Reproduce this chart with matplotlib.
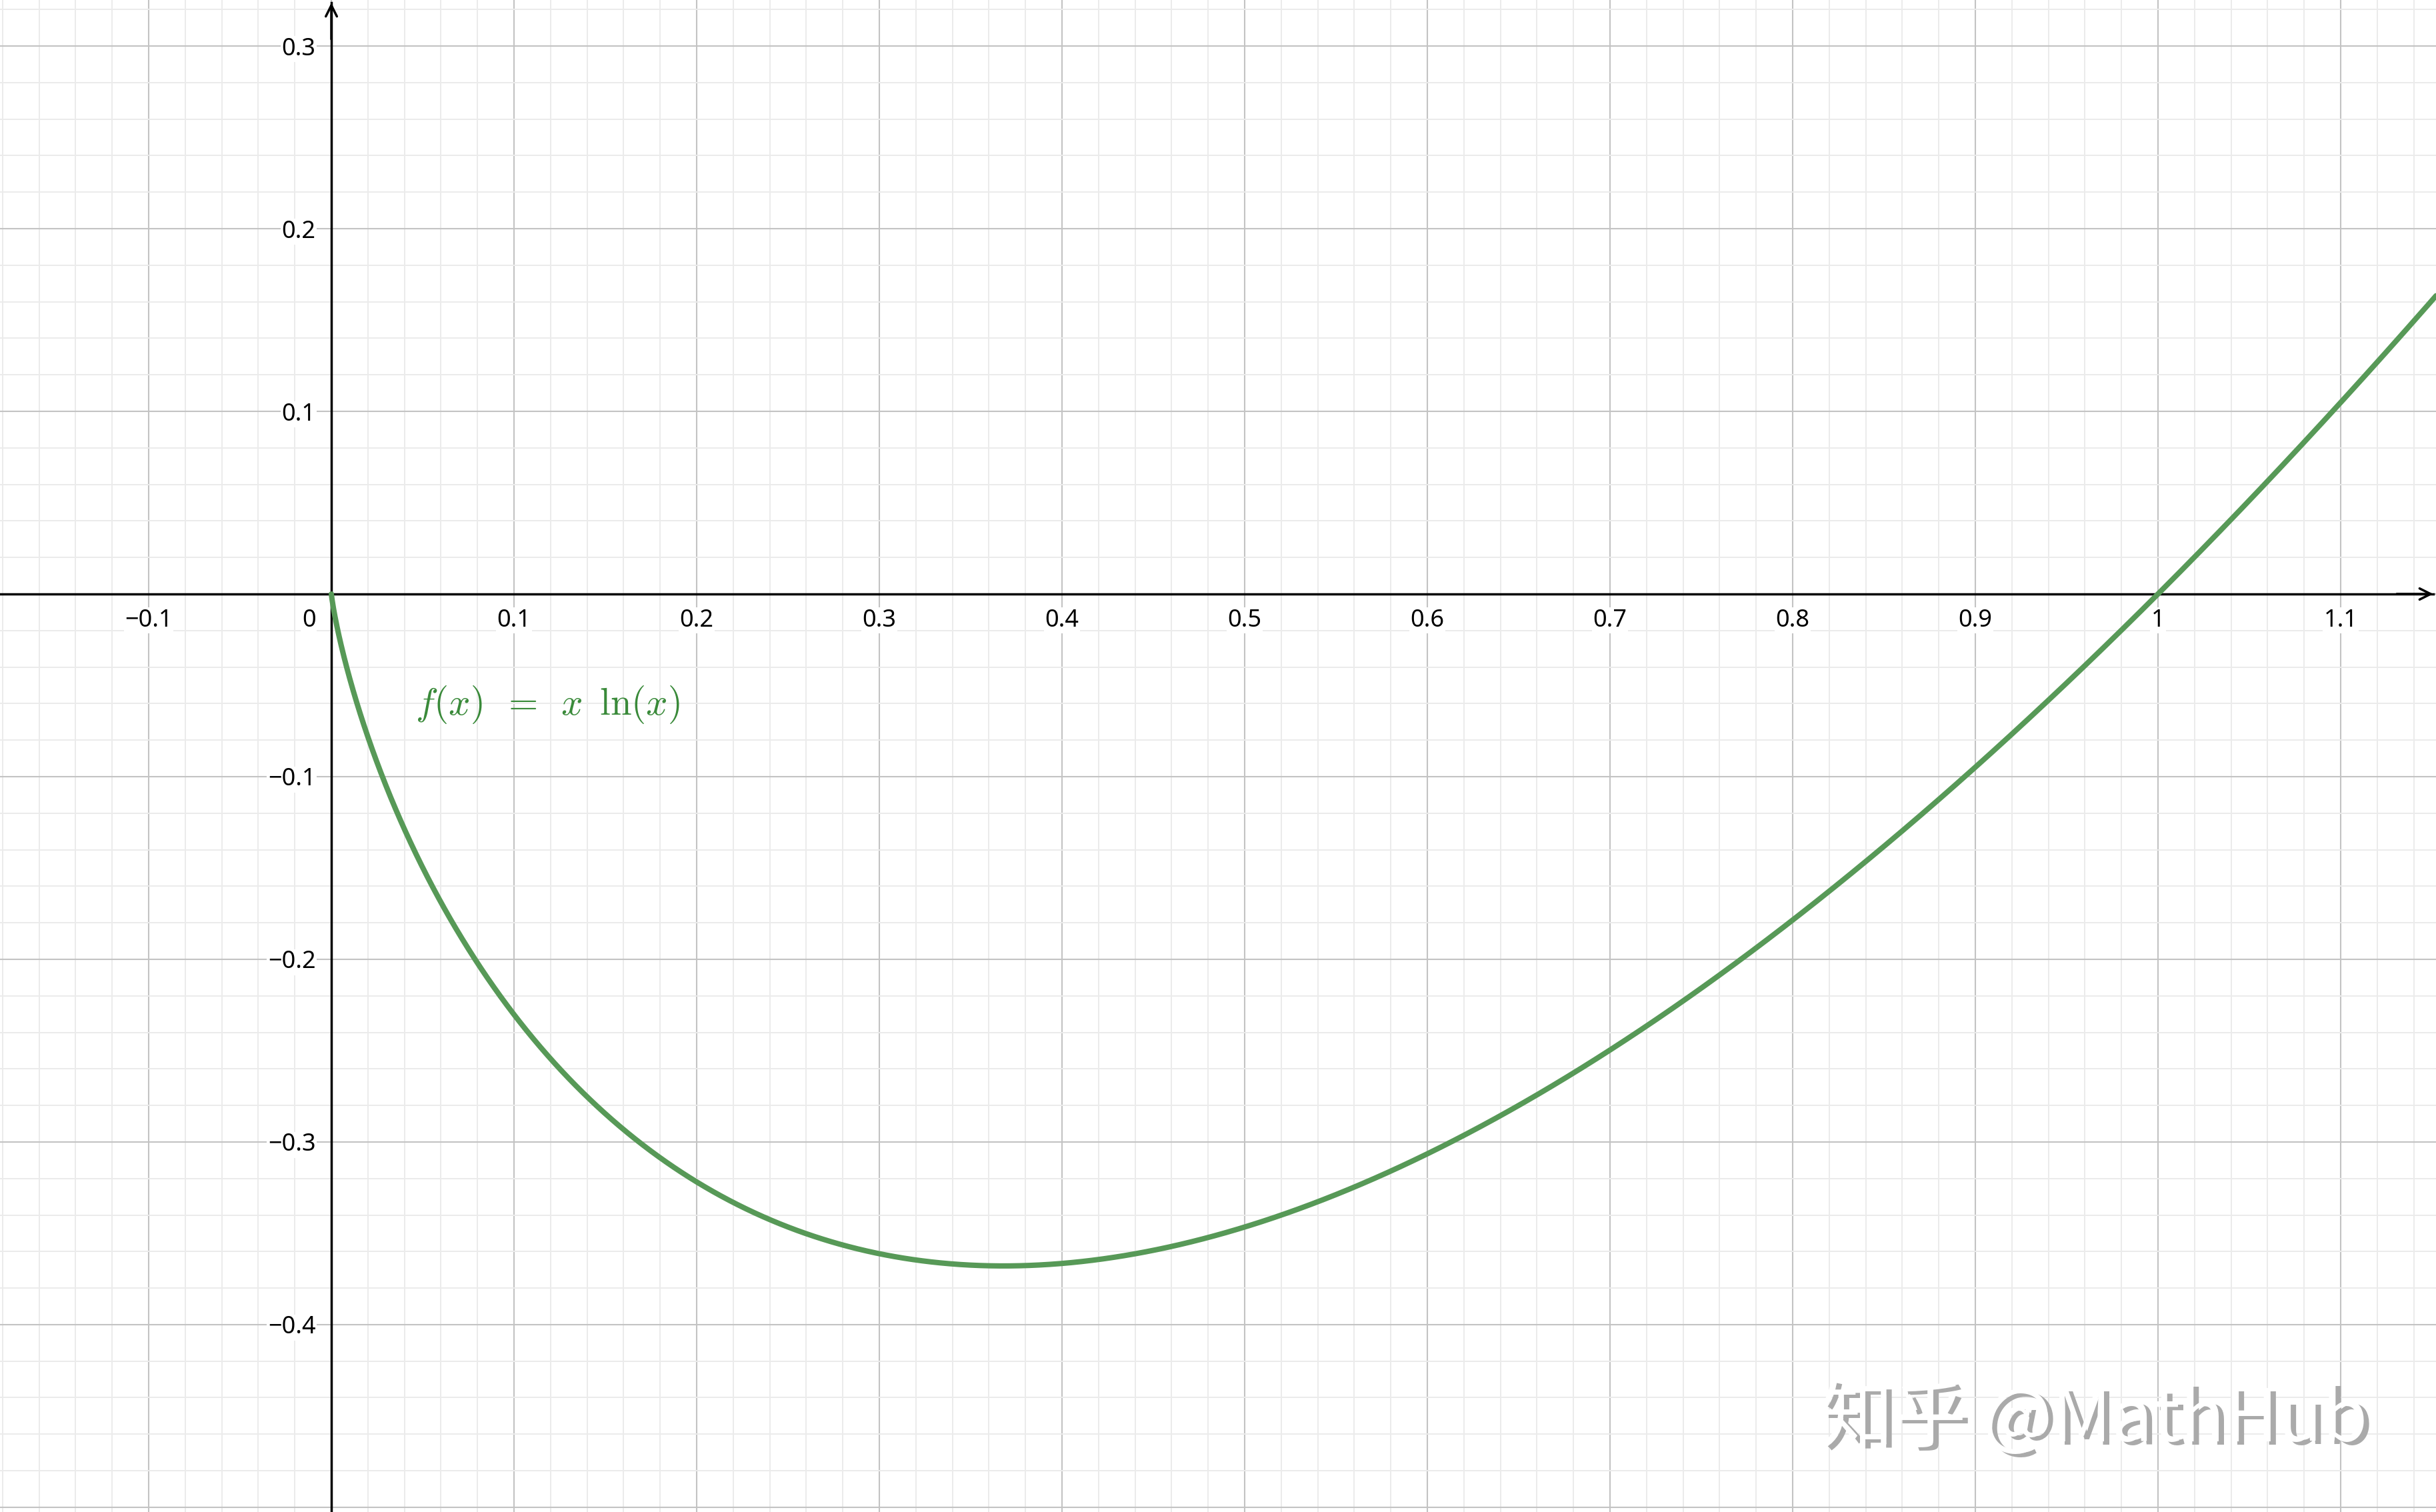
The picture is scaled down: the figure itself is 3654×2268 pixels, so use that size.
import numpy as np
import matplotlib
matplotlib.use("Agg")
import matplotlib.pyplot as plt
from matplotlib.ticker import MultipleLocator

# ---- data ----
x_ticks = [-0.1, 0.1, 0.2, 0.3, 0.4, 0.5, 0.6, 0.7, 0.8, 0.9, 1.0, 1.1]
x_tick_labels = ['\u22120.1', '0.1', '0.2', '0.3', '0.4', '0.5', '0.6', '0.7',
                 '0.8', '0.9', '1', '1.1']
y_ticks = [0.3, 0.2, 0.1, -0.1, -0.2, -0.3, -0.4]
y_tick_labels = ['0.3', '0.2', '0.1', '\u22120.1', '\u22120.2', '\u22120.3', '\u22120.4']
origin_label = '0'
func_label = r'$f(x)\ \,=\ \,x\ \,\ln(x)$'
watermark = '知乎 @MathHub'

# plotted function f(x) = x ln(x), as named in the chart
x_curve = np.linspace(1e-7, 1.16, 3000)
y_curve = x_curve * np.log(x_curve)

# ---- layout ----
W, H, DPI = 3654, 2268, 100
x_min, x_max = -0.1814, 1.1522
y_min, y_max = -0.5026, 0.3252

plt.rcParams['mathtext.fontset'] = 'cm'
plt.rcParams['font.family'] = ['Noto Sans', 'DejaVu Sans']

fig = plt.figure(figsize=(W / DPI, H / DPI), dpi=DPI)
ax = fig.add_axes([0, 0, 1, 1])
ax.set_xlim(x_min, x_max)
ax.set_ylim(y_min, y_max)

ax.xaxis.set_major_locator(MultipleLocator(0.1))
ax.xaxis.set_minor_locator(MultipleLocator(0.02))
ax.yaxis.set_major_locator(MultipleLocator(0.1))
ax.yaxis.set_minor_locator(MultipleLocator(0.02))
ax.grid(which='minor', color='#ebebeb', lw=1.4)
ax.grid(which='major', color='#c3c3c3', lw=1.5)
ax.set_axisbelow(True)
ax.tick_params(which='both', length=0, labelbottom=False, labelleft=False)
for s in ax.spines.values():
    s.set_visible(False)

# axes lines with open arrowheads
x_tip = 1.1507
y_tip = 0.3237
ax.plot([x_min, x_tip], [0, 0], color='black', lw=2.5, zorder=3)
ax.plot([0, 0], [y_min, y_tip], color='black', lw=2.5, zorder=3)
arrow_kw = dict(arrowstyle='->,head_length=1.2,head_width=0.6', color='black',
                lw=2.5, mutation_scale=10, shrinkA=0, shrinkB=0)
ax.annotate('', xy=(x_tip, 0), xytext=(x_tip - 0.02, 0), arrowprops=arrow_kw, zorder=3)
ax.annotate('', xy=(0, y_tip), xytext=(0, y_tip - 0.02), arrowprops=arrow_kw, zorder=3)

bbox = dict(facecolor='white', edgecolor='none', pad=1.0)
for t, lab in zip(x_ticks, x_tick_labels):
    ax.annotate(lab, xy=(t, 0), xytext=(0, -15.5), textcoords='offset points',
                ha='center', va='top', fontsize=26, color='black', bbox=bbox, zorder=4)
for t, lab in zip(y_ticks, y_tick_labels):
    ax.annotate(lab, xy=(0, t), xytext=(-17, 0), textcoords='offset points',
                ha='right', va='center_baseline', fontsize=26, color='black', bbox=bbox, zorder=4)
ax.annotate(origin_label, xy=(0, 0), xytext=(-17, -15.5), textcoords='offset points',
            ha='right', va='top', fontsize=26, color='black', bbox=bbox, zorder=4)

# curve
ax.plot(x_curve, y_curve, color='#579957', lw=5.8, solid_capstyle='round', zorder=5)
ax.text(0.0460, -0.066, func_label, fontsize=41, color='#3a8a3a',
        ha='left', va='baseline', zorder=6)

# watermark with shadow
wm_kw = dict(fontsize=79, family=['Noto Sans CJK SC', 'DejaVu Sans'],
             ha='left', va='baseline', zorder=10)
fig.text((2730 + 8) / W, (H - 2162 - 5) / H, watermark, color='#aaaaaa', **wm_kw)
fig.text(2730 / W, (H - 2162) / H, watermark, color='white', **wm_kw)

fig.savefig('out.png', dpi=DPI)
